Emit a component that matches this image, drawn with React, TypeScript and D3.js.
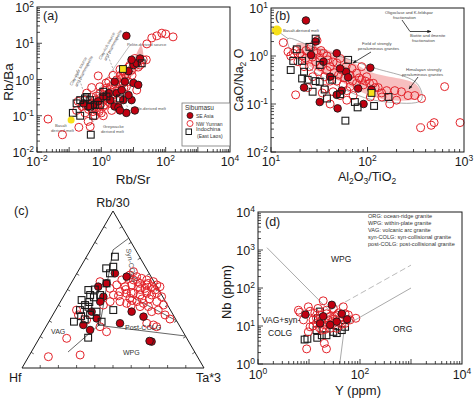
import { useEffect, useRef } from 'react';
import * as d3 from 'd3';

const FONT = '"Liberation Sans", Arial, sans-serif';
const RED = '#e3232a';
const DARK_RED = '#c00010';
const INK = '#1a1a1a';
const GREY = '#9a9a9a';

// ---- (a) Rb/Sr vs Rb/Ba : [Rb/Sr, Rb/Ba]
const aYunnan = [
  [0.022, 0.081], [0.062, 0.03], [0.2, 0.048], [0.39, 0.07], [0.45, 0.05], [1.15, 0.1], [0.8, 1.26], [0.5, 0.6],
  [0.31, 0.27], [2.3, 0.37], [1.45, 0.58], [0.9, 0.42], [0.63, 0.27], [0.45, 0.22], [0.33, 0.19], [0.25, 0.18],
  [0.7, 0.14], [1.15, 0.18], [1.9, 0.22], [3, 0.27], [3.8, 0.42], [2.6, 0.58], [1.7, 0.87], [3, 0.98], [4.8, 0.8],
  [2.3, 1.3], [4.3, 1.07], [6, 1.2], [4.8, 1.7], [6.9, 0.87], [3.8, 0.71], [8.7, 1.8], [10, 2.8], [11, 3.8], [14, 2.2],
  [16, 2.5], [20, 3.5], [25, 3.5], [12.6, 0.51], [3.3, 0.18], [26, 9.6], [37, 14], [53, 16], [76, 19], [100, 18],
  [170, 15], [2.1, 0.14], [0.5, 0.16], [0.63, 0.1], [0.9, 0.3], [1.3, 0.51], [1.9, 0.63], [1.15, 0.27], [6, 0.63],
  [3.8, 1.9], [7.8, 2.5], [0.5, 0.33], [0.35, 0.42], [0.19, 0.25], [0.17, 0.14], [0.31, 0.12], [0.9, 0.63],
  [1.4, 0.8], [2.0, 0.45], [5.5, 1.4], [9, 1.3], [0.75, 0.2], [1.6, 0.3],
  [0.4, 0.15], [0.55, 0.13], [0.6, 0.17], [0.8, 0.17], [1.0, 0.22], [1.3, 0.2], [1.6, 0.25], [2.2, 0.3],
  [2.6, 0.4], [1.2, 0.38], [0.7, 0.35], [0.55, 0.22], [3.5, 0.55], [5, 0.6], [2.8, 0.75], [4, 1.3], [7, 2.2],
  [1.0, 0.12], [0.85, 0.13], [2.5, 0.2],
];
const aSEAsia = [
  [6, 16], [5.4, 0.87], [10, 0.8], [8.7, 0.27], [6, 0.12], [11, 0.14], [2.6, 0.18], [3.4, 0.17], [3, 0.42],
  [1.9, 0.27], [2.6, 0.87], [7, 1.7], [10, 2.5], [12.6, 2.8], [8.7, 3.5], [0.56, 0.2], [0.39, 0.18], [0.28, 0.22],
  [0.8, 0.25], [1.15, 0.34], [1.7, 0.42], [4.3, 0.51], [7, 0.37], [4.8, 0.27], [3.8, 0.14], [14, 0.71], [16, 3.8],
];
const aIndochina = [
  [18, 2.8], [0.31, 0.3], [0.22, 0.27], [0.13, 0.12], [0.22, 0.1], [0.47, 0.03], [0.56, 0.1], [0.45, 0.18],
  [0.63, 0.2], [1.15, 0.46], [1.45, 0.34], [0.45, 0.27], [0.35, 0.33], [0.17, 0.22], [0.9, 0.2], [3.8, 0.3],
];
const aBasaltMelt = [[0.115, 0.076]];
const aYellowSquare = [[4.7, 1.95]];
const aPeliteField = [[3, 1.2], [9, 3], [17, 8.5], [20, 3.3], [12, 1.6], [5, 0.9]];
const aGuideDashed = [
  [[0.17, 1.8], [0.63, 0.049]],
  [[1.5, 5.4], [6.7, 0.16]],
];
const aGuideSolid = [[[0.45, 0.24], [7.8, 8.9]]];

// ---- (b) Al2O3/TiO2 vs CaO/Na2O
const bYunnan = [
  [13.4, 1.9], [15, 1.23], [18, 1.3], [20, 1.14], [23, 1.3], [26, 1.55], [30, 1.14], [32, 0.89], [35, 1.14],
  [39, 0.83], [41, 0.6], [48, 0.71], [54, 0.51], [60, 0.6], [66, 0.4], [77, 0.44], [87, 0.32], [98, 0.37],
  [115, 0.27], [129, 0.22], [158, 0.19], [192, 0.19], [225, 0.18], [263, 0.15], [309, 0.15], [363, 0.13],
  [355, 0.032], [457, 0.036], [490, 0.041], [910, 0.041], [630, 0.23], [29, 0.76], [25, 0.6], [31, 0.47],
  [36, 0.37], [41, 0.3], [48, 0.3], [56, 0.25], [66, 0.23], [77, 0.27], [91, 0.25], [34, 0.17], [41, 0.1],
  [52, 0.15], [61, 0.19], [71, 0.15], [61, 0.12], [18, 0.155], [24, 0.22], [87, 0.6], [69, 0.55], [52, 0.89],
  [19, 0.76], [22, 0.6], [36, 0.21], [44, 0.18], [170, 0.1], [141, 0.14], [200, 0.12], [107, 0.14], [27, 0.37],
  [17, 1.14], [30, 2.1], [16, 1.0], [21, 1.0], [27, 0.95], [33, 1.3], [38, 1.0], [44, 0.75], [28, 1.25], [23, 0.9],
  [45, 0.45], [50, 0.4], [58, 0.35], [70, 0.3], [82, 0.35], [95, 0.3], [105, 0.27], [38, 0.5], [33, 0.6],
  [120, 0.22], [140, 0.17],
];
const bSEAsia = [
  [23, 5.5], [29, 2.0], [48, 1.14], [107, 0.57], [22, 0.22], [32, 0.11], [49, 0.081], [91, 0.1], [110, 0.2],
  [80, 0.21], [60, 0.47], [52, 0.55], [41, 0.37], [54, 0.19], [63, 0.36], [26, 1.05], [35, 0.76], [48, 0.155],
];
const bIndochina = [
  [17, 0.79], [16, 0.51], [21, 0.79], [22, 0.47], [21, 0.34], [24, 0.32], [29, 0.3], [32, 0.29], [18.5, 1.38],
  [29, 2.3], [27, 0.18], [36, 0.2], [38, 0.13], [52, 0.16], [59, 0.045], [74, 0.11], [79, 0.085], [117, 0.091],
  [165, 0.14], [43, 0.32], [63, 0.83], [32, 0.65], [25, 1.55],
];
const bBasaltMelt = [[11.5, 3.4]];
const bYellowSquare = [[110, 0.17]];
const bHimalayanField = [
  [18.4, 1.8], [48, 1.14], [106, 0.47], [325, 0.25], [350, 0.14], [170, 0.12], [91, 0.17], [48, 0.32], [23, 0.71],
];
const bPeraluminousField = [
  [15, 2.3], [27, 1.55], [106, 0.6], [325, 0.27], [360, 0.12], [158, 0.11], [77, 0.155], [25, 0.55], [16, 1.3],
];

// ---- (c) Hf - Rb/30 - Ta*3 ternary : [Rb/30 fraction, Ta*3 fraction], Hf = rest
const cYunnan = [
  [0.592, 0.297], [0.582, 0.339], [0.571, 0.372], [0.561, 0.405], [0.55, 0.447], [0.529, 0.476], [0.518, 0.499],
  [0.518, 0.453], [0.507, 0.422], [0.518, 0.38], [0.529, 0.339], [0.518, 0.307], [0.486, 0.295], [0.476, 0.337],
  [0.476, 0.374], [0.465, 0.416], [0.476, 0.447], [0.465, 0.48], [0.476, 0.502], [0.454, 0.54], [0.423, 0.419],
  [0.412, 0.461], [0.391, 0.499], [0.412, 0.369], [0.423, 0.327], [0.465, 0.27], [0.529, 0.256], [0.539, 0.378],
  [0.539, 0.424], [0.497, 0.483], [0.561, 0.332], [0.561, 0.268], [0.391, 0.453], [0.444, 0.371], [0.423, 0.529],
  [0.401, 0.577], [0.072, 0.109], [0.189, 0.151], [0.083, 0.278], [0.231, 0.349], [0.338, 0.141], [0.306, 0.202],
  [0.263, 0.297], [0.285, 0.543], [0.274, 0.585], [0.263, 0.608], [0.338, 0.617], [0.312, 0.657], [0.369, 0.564],
  [0.359, 0.533], [0.423, 0.273], [0.401, 0.247], [0.55, 0.154], [0.507, 0.23], [0.614, 0.305], [0.369, 0.115],
  [0.55, 0.36], [0.5, 0.4], [0.49, 0.44], [0.5, 0.32], [0.44, 0.44], [0.44, 0.48], [0.53, 0.42], [0.57, 0.3],
  [0.46, 0.3], [0.4, 0.4], [0.43, 0.39], [0.48, 0.36],
];
const cSEAsia = [
  [0.603, 0.209], [0.582, 0.284], [0.518, 0.16], [0.454, 0.22], [0.359, 0.203], [0.316, 0.252], [0.274, 0.2],
  [0.242, 0.253], [0.285, 0.396], [0.359, 0.423], [0.327, 0.504], [0.168, 0.628], [0.539, 0.195], [0.423, 0.218],
  [0.172, 0.615],
];
const cIndochina = [
  [0.709, 0.156], [0.635, 0.145], [0.645, 0.179], [0.497, 0.116], [0.465, 0.142], [0.433, 0.111], [0.369, 0.134],
  [0.295, 0.138], [0.338, 0.205], [0.295, 0.29], [0.369, 0.317], [0.193, 0.267], [0.359, 0.23], [0.539, 0.195],
  [0.603, 0.182], [0.401, 0.146], [0.465, 0.197], [0.42, 0.16], [0.39, 0.17], [0.45, 0.17], [0.5, 0.15],
  [0.33, 0.16], [0.31, 0.19],
];
const cBoundaries = [
  [[0.752, 0.124], [0.828, 0.174]],
  [[0.752, 0.124], [0.28, 0.289]],
  [[0.102, 0.202], [0.28, 0.289]],
  [[0.268, 0.311], [0.204, 0.796]],
  [[0.459, 0.364], [0.299, 0.702]],
];

// ---- (d) Y vs Nb (Pearce)
const dYunnan = [
  [6.6, 23], [9.7, 32], [10.5, 24.5], [9.7, 7], [19, 46], [47, 32], [83, 16], [9, 2.5], [22, 2.5], [7.8, 14.5],
  [22, 26], [30, 29], [16.5, 19.5], [26, 18], [35, 19.5], [51, 21], [64, 14.5], [14, 11.7], [20.5, 10.7], [30, 11.7],
  [41, 13], [17.8, 7.8], [26, 8.7], [15, 29], [12, 14.5], [10.5, 9.5], [35, 8.7], [51, 11.7], [59, 19.5], [24, 14.5],
  [32, 18], [6.2, 26], [20, 3.5], [13, 22], [18, 15], [40, 16], [28, 13],
  [14, 16], [17, 13], [22, 21], [25, 11], [30, 15], [38, 22], [43, 11], [20, 8], [12, 10], [16, 9],
];
const dSEAsia = [[8.5, 20], [28, 36], [56, 15], [35, 13], [19, 18], [26, 10.7], [44, 21], [16.5, 11.7]];
const dIndochina = [
  [9.3, 4.6], [8.2, 4.4], [14.5, 4.9], [22, 5.7], [30, 7], [44, 7.8], [51, 9.5], [16.5, 24], [15, 16], [14, 7.8],
  [17.8, 5.7], [35, 6.5],
];
const dSolid = [
  [[1.5, 1150], [50, 10]],
  [[50, 10], [1000, 100]],
  [[50, 10], [40, 1]],
];
const dDashed = [[[25, 25], [1000, 400]]];
const dNotes = [
  'ORG: ocean-ridge granite',
  'WPG: within-plate granite',
  'VAG: volcanic arc granite',
  'syn-COLG: syn-collisional granite',
  'post-COLG: post-collisional granite',
];

type Sel = d3.Selection<any, any, any, any>;

function txt(g: Sel, x: number, y: number, s: string, size: number, opts: any = {}) {
  const t = g.append('text').attr('x', x).attr('y', y).attr('font-family', FONT)
    .attr('font-size', size).attr('fill', opts.fill || INK).text(s);
  if (opts.anchor) t.attr('text-anchor', opts.anchor);
  if (opts.rotate != null) t.attr('transform', `rotate(${opts.rotate},${x},${y})`);
  return t;
}

function pow10(t: Sel, e: number) {
  t.append('tspan').text('10');
  t.append('tspan').attr('dy', -5).attr('font-size', 8.5).text(String(e));
}

// runs of [text, isSubscript]
function subText(t: Sel, parts: [string, boolean][], size: number) {
  let low = false;
  parts.forEach(([s, sub]) => {
    const sp = t.append('tspan').text(s).attr('font-size', sub ? size * 0.68 : size);
    if (sub && !low) sp.attr('dy', 3);
    if (!sub && low) sp.attr('dy', -3);
    low = sub;
  });
}

function logFrame(g: Sel, x: any, y: any, xLab: number[], yLab: number[], lab = 14) {
  const [xl, xr] = x.range();
  const [yb, yt] = y.range();
  g.append('rect').attr('x', xl).attr('y', yt).attr('width', xr - xl).attr('height', yb - yt)
    .attr('fill', 'none').attr('stroke', INK).attr('stroke-width', 1);
  const ticks = (s: any) => {
    const [d0, d1] = s.domain();
    const out: { v: number; major: boolean }[] = [];
    for (let e = Math.round(Math.log10(d0)); e < Math.round(Math.log10(d1)); e++)
      for (let m = 1; m < 10; m++) out.push({ v: m * 10 ** e, major: m === 1 });
    return out;
  };
  ticks(x).forEach(({ v, major }) => {
    g.append('line').attr('x1', x(v)).attr('x2', x(v)).attr('y1', yb).attr('y2', yb - (major ? 5 : 3))
      .attr('stroke', INK).attr('stroke-width', 0.8);
  });
  ticks(y).forEach(({ v, major }) => {
    g.append('line').attr('y1', y(v)).attr('y2', y(v)).attr('x1', xl).attr('x2', xl + (major ? 5 : 3))
      .attr('stroke', INK).attr('stroke-width', 0.8);
  });
  xLab.forEach((e) => pow10(txt(g, x(10 ** e), yb + lab, '', 12.5, { anchor: 'middle' }), e));
  yLab.forEach((e) => pow10(txt(g, xl - 3, y(10 ** e) + 5, '', 12.5, { anchor: 'end' }), e));
}

function scatter(g: Sel, data: number[][], px: (d: number[]) => number, py: (d: number[]) => number, kind: string, r = 4) {
  const layer = g.append('g');
  if (kind === 'square') {
    layer.selectAll('rect').data(data).join('rect')
      .attr('x', (d) => px(d) - r * 0.85).attr('y', (d) => py(d) - r * 0.85)
      .attr('width', r * 1.7).attr('height', r * 1.7)
      .attr('fill', 'none').attr('stroke', INK).attr('stroke-width', 1.1);
  } else if (kind === 'filled') {
    layer.selectAll('circle').data(data).join('circle')
      .attr('cx', px).attr('cy', py).attr('r', r)
      .attr('fill', DARK_RED).attr('stroke', INK).attr('stroke-width', 0.9);
  } else {
    layer.selectAll('circle').data(data).join('circle')
      .attr('cx', px).attr('cy', py).attr('r', r)
      .attr('fill', 'none').attr('stroke', RED).attr('stroke-width', 1);
  }
}

function drawA(g: Sel) {
  const x = d3.scaleLog().domain([1e-2, 1e4]).range([37, 230]);
  const y = d3.scaleLog().domain([1e-2, 1e2]).range([152, 7]);
  const px = (d: number[]) => x(d[0]);
  const py = (d: number[]) => y(d[1]);
  const line = d3.line<number[]>().x(px).y(py);

  g.append('path').datum(aPeliteField).attr('d', line.curve(d3.curveCardinalClosed) as any)
    .attr('fill', '#f2a4a4').attr('opacity', 0.85);
  line.curve(d3.curveLinear);
  aGuideDashed.forEach((l) => g.append('path').attr('d', line(l)).attr('stroke', GREY).attr('stroke-width', 0.8)
    .attr('stroke-dasharray', '2,1.5').attr('fill', 'none'));
  aGuideSolid.forEach((l) => g.append('path').attr('d', line(l)).attr('stroke', '#b0b0b0').attr('stroke-width', 0.8).attr('fill', 'none'));

  const note = (xx: number, yy: number, s: string, rot?: number) => txt(g, xx, yy, s, 4.2, { fill: '#555', rotate: rot });
  note(127, 46, 'Pelite-derived source');
  note(101, 60, 'Clay-rich source', -62);
  note(106, 61, 'and psammopelite', -62);
  note(72, 86, 'Clay-poor source', -62);
  note(77, 87, 'and psammopelite', -62);
  note(131, 110, 'Shale-derived melt');
  note(103, 128, 'Greywacke');
  note(101, 133, 'derived melt');
  note(55, 127, 'Basalt');
  note(51, 132, 'derived melt');

  scatter(g, aYunnan, px, py, 'open');
  scatter(g, aSEAsia, px, py, 'filled', 3.8);
  scatter(g, aIndochina, px, py, 'square');
  g.selectAll('.bm').data(aBasaltMelt).join('circle').attr('cx', px).attr('cy', py).attr('r', 3.5).attr('fill', '#f7e01a');
  g.selectAll('.ys').data(aYellowSquare).join('rect').attr('x', (d) => px(d) - 3.4).attr('y', (d) => py(d) - 3.4)
    .attr('width', 6.8).attr('height', 6.8).attr('fill', '#f7e01a').attr('stroke', INK).attr('stroke-width', 1);

  logFrame(g, x, y, [-2, 0, 2, 4], [-2, -1, 0, 1, 2]);
  txt(g, 43, 20, '(a)', 12.5);
  txt(g, 133, 184, 'Rb/Sr', 13.5, { anchor: 'middle' });
  txt(g, 13, 82, 'Rb/Ba', 13.5, { anchor: 'middle', rotate: -90 });

  // legend
  const lg = g.append('g');
  lg.append('rect').attr('x', 182).attr('y', 103).attr('width', 48).attr('height', 43)
    .attr('fill', '#fff').attr('stroke', '#777').attr('stroke-width', 0.8);
  txt(lg, 185, 110, 'Sibumasu', 6.5, { fill: '#333' });
  lg.append('circle').attr('cx', 190).attr('cy', 115.5).attr('r', 3).attr('fill', DARK_RED).attr('stroke', INK).attr('stroke-width', 0.8);
  txt(lg, 196, 117.5, 'SE Asia', 5, { fill: '#333' });
  lg.append('circle').attr('cx', 190).attr('cy', 123.5).attr('r', 3).attr('fill', 'none').attr('stroke', RED).attr('stroke-width', 0.9);
  txt(lg, 196, 125.5, 'NW Yunnan', 5, { fill: '#333' });
  lg.append('rect').attr('x', 186).attr('y', 129).attr('width', 5.5).attr('height', 5.5).attr('fill', 'none').attr('stroke', INK);
  txt(lg, 196, 131, 'Indochina', 5.6, { fill: '#333' });
  txt(lg, 197, 138, '(East Laos)', 5, { fill: '#333' });
}

function drawB(g: Sel) {
  const x = d3.scaleLog().domain([10, 1000]).range([271, 464]);
  const y = d3.scaleLog().domain([0.01, 10]).range([152, 8]);
  const px = (d: number[]) => x(d[0]);
  const py = (d: number[]) => y(d[1]);
  const closed = d3.line<number[]>().x(px).y(py).curve(d3.curveCatmullRomClosed);

  g.append('path').attr('d', closed(bHimalayanField)).attr('fill', '#f4aaaa').attr('opacity', 0.75);
  g.append('path').attr('d', closed(bPeraluminousField)).attr('fill', 'none').attr('stroke', '#888').attr('stroke-width', 0.7);
  g.append('path').attr('d', d3.line<number[]>().x(px).y(py)([bBasaltMelt[0], bPeraluminousField[0]]))
    .attr('stroke', '#888').attr('stroke-width', 0.7);

  scatter(g, bYunnan, px, py, 'open');
  scatter(g, bSEAsia, px, py, 'filled', 3.8);
  scatter(g, bIndochina, px, py, 'square');
  g.selectAll('.bm').data(bBasaltMelt).join('circle').attr('cx', px).attr('cy', py).attr('r', 5).attr('fill', '#f7e01a');
  g.selectAll('.ys').data(bYellowSquare).join('rect').attr('x', (d) => px(d) - 3.4).attr('y', (d) => py(d) - 3.4)
    .attr('width', 6.8).attr('height', 6.8).attr('fill', '#f7e01a').attr('stroke', INK).attr('stroke-width', 1);

  const note = (xx: number, yy: number, s: string) => txt(g, xx, yy, s, 4.2, { fill: '#444' });
  note(283, 32, 'Basalt-derived melt');
  note(362, 45, 'Field of strongly');
  note(358, 49.5, 'peraluminous granites');
  note(406, 71, 'Himalayan strongly');
  note(402, 75.5, 'peraluminous granites');
  note(385, 14, 'Oligoclase and K-feldspar');
  note(393, 18.5, 'fractionation');
  note(410, 37, 'Biotite and ilmenite');
  note(412, 41.5, 'fractionation');
  const arrow = (pts: number[][]) => g.append('path').attr('d', d3.line()(pts as any)).attr('fill', 'none')
    .attr('stroke', INK).attr('stroke-width', 0.8).attr('marker-end', 'url(#arr)');
  arrow([[371, 52], [353, 63]]);
  arrow([[418, 77], [409, 89]]);
  arrow([[402, 20], [410, 31.5], [431, 31.5]]);

  logFrame(g, x, y, [1, 2, 3], [-2, -1, 0, 1]);
  txt(g, 275, 20, '(b)', 12.5);
  subText(txt(g, 367, 181, '', 12.5, { anchor: 'middle' }),
    [['Al', false], ['2', true], ['O', false], ['3', true], ['/TiO', false], ['2', true]], 12.5);
  subText(txt(g, 243, 80, '', 12.5, { anchor: 'middle', rotate: -90 }),
    [['CaO/Na', false], ['2', true], [' O', false]], 12.5);
}

function drawC(g: Sel) {
  const tx = d3.scaleLinear().domain([0, 1]).range([22, 204]);
  const ty = d3.scaleLinear().domain([0, 1]).range([368, 211]);
  const px = (d: number[]) => tx(d[1] + d[0] / 2);
  const py = (d: number[]) => ty(d[0]);
  const corners = [[0, 0], [1, 0], [0, 1]];
  g.append('path').attr('d', d3.line<number[]>().x(px).y(py)(corners) + 'Z')
    .attr('fill', 'none').attr('stroke', INK).attr('stroke-width', 1);

  // ticks at 10% along each side, pointing inward
  const sides = [
    { from: [0, 0], to: [0, 1], n: [0, -1] },
    { from: [0, 0], to: [1, 0], n: [0.866, 0.5] },
    { from: [0, 1], to: [1, 0], n: [-0.866, 0.5] },
  ];
  sides.forEach(({ from, to, n }) => {
    d3.range(1, 10).forEach((i) => {
      const f = i / 10;
      const d = [from[0] + (to[0] - from[0]) * f, from[1] + (to[1] - from[1]) * f];
      g.append('line').attr('x1', px(d)).attr('y1', py(d)).attr('x2', px(d) + n[0] * 3).attr('y2', py(d) + n[1] * 3)
        .attr('stroke', INK).attr('stroke-width', 0.7);
    });
  });

  const line = d3.line<number[]>().x(px).y(py);
  cBoundaries.forEach((l) => g.append('path').attr('d', line(l)).attr('stroke', '#555').attr('stroke-width', 0.9).attr('fill', 'none'));

  scatter(g, cYunnan, px, py, 'open');
  scatter(g, cSEAsia, px, py, 'filled', 3.8);
  scatter(g, cIndochina, px, py, 'square');

  txt(g, 113, 207, 'Rb/30', 12.5, { anchor: 'middle' });
  txt(g, 9, 382, 'Hf', 12.5);
  txt(g, 196, 382, 'Ta*3', 12.5);
  txt(g, 14, 215, '(c)', 12.5);
  txt(g, 51, 334, 'VAG', 7, { fill: '#333' });
  txt(g, 125, 330, 'Post-COLG', 7, { fill: '#333' });
  txt(g, 123, 355, 'WPG', 7, { fill: '#333' });
  txt(g, 126, 249, 'Syn-COLG', 7, { fill: '#555', rotate: 80 });
}

function drawD(g: Sel) {
  const x = d3.scaleLog().domain([1, 1e4]).range([258, 462]);
  const y = d3.scaleLog().domain([1, 1e4]).range([364, 212]);
  const px = (d: number[]) => x(d[0]);
  const py = (d: number[]) => y(d[1]);
  const line = d3.line<number[]>().x(px).y(py);

  dSolid.forEach((l) => g.append('path').attr('d', line(l)).attr('stroke', '#aaa').attr('stroke-width', 1).attr('fill', 'none'));
  dDashed.forEach((l) => g.append('path').attr('d', line(l)).attr('stroke', '#bbb').attr('stroke-width', 1)
    .attr('stroke-dasharray', '6,3').attr('fill', 'none'));

  scatter(g, dIndochina, px, py, 'square');
  scatter(g, dYunnan, px, py, 'open');
  scatter(g, dSEAsia, px, py, 'filled', 3.8);

  logFrame(g, x, y, [0, 2, 4], [0, 1, 2, 3, 4], 15);
  txt(g, 265, 226, '(d)', 12.5);
  txt(g, 331, 262, 'WPG', 8.5);
  txt(g, 393, 332, 'ORG', 8.5);
  txt(g, 262, 323, 'VAG+syn-', 8.5);
  txt(g, 268, 336, 'COLG', 8.5);
  dNotes.forEach((s, i) => txt(g, 368, 218 + i * 7, s, 5.6, { fill: '#333' }));
  txt(g, 358, 395, 'Y (ppm)', 13, { anchor: 'middle' });
  txt(g, 231, 292, 'Nb (ppm)', 13, { anchor: 'middle', rotate: -90 });
}

export default function App() {
  const ref = useRef<SVGSVGElement>(null);
  useEffect(() => {
    if (!ref.current) return;
    const svg = d3.select(ref.current);
    svg.selectAll('*').remove();
    svg.append('defs').append('marker').attr('id', 'arr').attr('viewBox', '0 0 10 10')
      .attr('refX', 9).attr('refY', 5).attr('markerWidth', 5).attr('markerHeight', 5).attr('orient', 'auto')
      .append('path').attr('d', 'M0,1L10,5L0,9Z').attr('fill', INK);
    drawA(svg.append('g'));
    drawB(svg.append('g'));
    drawC(svg.append('g'));
    drawD(svg.append('g'));
  }, []);
  return (
    <svg ref={ref} width={474} height={399}
      style={{ position: 'absolute', left: 0, top: 0, background: '#fff', display: 'block' }} />
  );
}
